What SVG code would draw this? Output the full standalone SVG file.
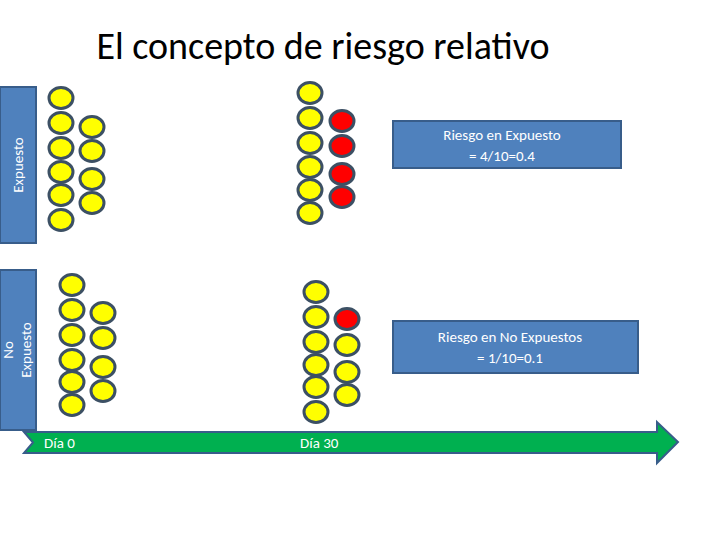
<svg xmlns="http://www.w3.org/2000/svg" width="720" height="540" viewBox="0 0 720 540">
<style>
.bar{fill:#4f81bd;stroke:#385d8a;stroke-width:2}
.y{fill:#ffff00;stroke:#3c5064;stroke-width:3}
.r{fill:#ff0000;stroke:#3c5064;stroke-width:3}
.t{font-family:Calibri,Carlito,"Liberation Sans",sans-serif;fill:#fff;font-size:15px}
</style>
<rect width="720" height="540" fill="#fff"/>
<text x="323" y="59" text-anchor="middle" font-family="Calibri,Carlito,'Liberation Sans',sans-serif" font-size="38" fill="#000">El concepto de riesgo relativo</text>
<g id="label-expuesto"><rect class="bar" x="0" y="87" width="36" height="156"/><text class="t" transform="translate(23,165) rotate(-90)" text-anchor="middle">Expuesto</text></g>
<g id="label-noexpuesto"><rect class="bar" x="0" y="270" width="36" height="160"/><text class="t" transform="translate(13,350) rotate(-90)" text-anchor="middle">No</text><text class="t" transform="translate(31,350) rotate(-90)" text-anchor="middle">Expuesto</text></g>
<g id="exp-day0">
<ellipse class="y" cx="61" cy="98" rx="12" ry="10.5"/><ellipse class="y" cx="61" cy="123" rx="12" ry="10.5"/><ellipse class="y" cx="61" cy="148" rx="12" ry="10.5"/><ellipse class="y" cx="61" cy="172" rx="12" ry="10.5"/><ellipse class="y" cx="61" cy="195" rx="12" ry="10.5"/><ellipse class="y" cx="61" cy="220" rx="12" ry="10.5"/>
<ellipse class="y" cx="92" cy="127" rx="12" ry="10.5"/><ellipse class="y" cx="92" cy="151" rx="12" ry="10.5"/><ellipse class="y" cx="92" cy="179" rx="12" ry="10.5"/><ellipse class="y" cx="92" cy="203" rx="12" ry="10.5"/>
</g>
<g id="exp-day30">
<ellipse class="y" cx="310" cy="93" rx="12" ry="10.5"/><ellipse class="y" cx="310" cy="118" rx="12" ry="10.5"/><ellipse class="y" cx="310" cy="143" rx="12" ry="10.5"/><ellipse class="y" cx="310" cy="167" rx="12" ry="10.5"/><ellipse class="y" cx="310" cy="190" rx="12" ry="10.5"/><ellipse class="y" cx="310" cy="213" rx="12" ry="10.5"/>
<ellipse class="r" cx="342" cy="121" rx="12" ry="10.5"/><ellipse class="r" cx="342" cy="146" rx="12" ry="10.5"/><ellipse class="r" cx="342" cy="174" rx="12" ry="10.5"/><ellipse class="r" cx="342" cy="197" rx="12" ry="10.5"/>
</g>
<g id="noexp-day0">
<ellipse class="y" cx="72" cy="285" rx="12" ry="10.5"/><ellipse class="y" cx="72" cy="310" rx="12" ry="10.5"/><ellipse class="y" cx="72" cy="335" rx="12" ry="10.5"/><ellipse class="y" cx="72" cy="360" rx="12" ry="10.5"/><ellipse class="y" cx="72" cy="382" rx="12" ry="10.5"/><ellipse class="y" cx="72" cy="405" rx="12" ry="10.5"/>
<ellipse class="y" cx="103" cy="313" rx="12" ry="10.5"/><ellipse class="y" cx="103" cy="338" rx="12" ry="10.5"/><ellipse class="y" cx="103" cy="367" rx="12" ry="10.5"/><ellipse class="y" cx="103" cy="391" rx="12" ry="10.5"/>
</g>
<g id="noexp-day30">
<ellipse class="y" cx="316" cy="292" rx="12" ry="10.5"/><ellipse class="y" cx="316" cy="317" rx="12" ry="10.5"/><ellipse class="y" cx="316" cy="342" rx="12" ry="10.5"/><ellipse class="y" cx="316" cy="365" rx="12" ry="10.5"/><ellipse class="y" cx="316" cy="387" rx="12" ry="10.5"/><ellipse class="y" cx="316" cy="412" rx="12" ry="10.5"/>
<ellipse class="r" cx="347" cy="319" rx="12" ry="10.5"/><ellipse class="y" cx="347" cy="345" rx="12" ry="10.5"/><ellipse class="y" cx="347" cy="372" rx="12" ry="10.5"/><ellipse class="y" cx="347" cy="395" rx="12" ry="10.5"/>
</g>
<g id="box-exp"><rect class="bar" x="393" y="121" width="228" height="47"/><text class="t" x="502" y="140" text-anchor="middle">Riesgo en Expuesto</text><text class="t" x="502" y="161" text-anchor="middle">= 4/10=0.4</text></g>
<g id="box-noexp"><rect class="bar" x="393" y="321" width="245" height="52"/><text class="t" x="510" y="342" text-anchor="middle">Riesgo en No Expuestos</text><text class="t" x="510" y="363" text-anchor="middle">= 1/10=0.1</text></g>
<g id="connectors">
<path d="M24,432 L657,432 L657,422 L678,442 L657,463 L657,453 L24,453 L33,442.5 Z" fill="#00b050" stroke="#385d8a" stroke-width="2"/>
<text class="t" x="44" y="448">Día 0</text><text class="t" x="300" y="448">Día 30</text>
</g>
</svg>
